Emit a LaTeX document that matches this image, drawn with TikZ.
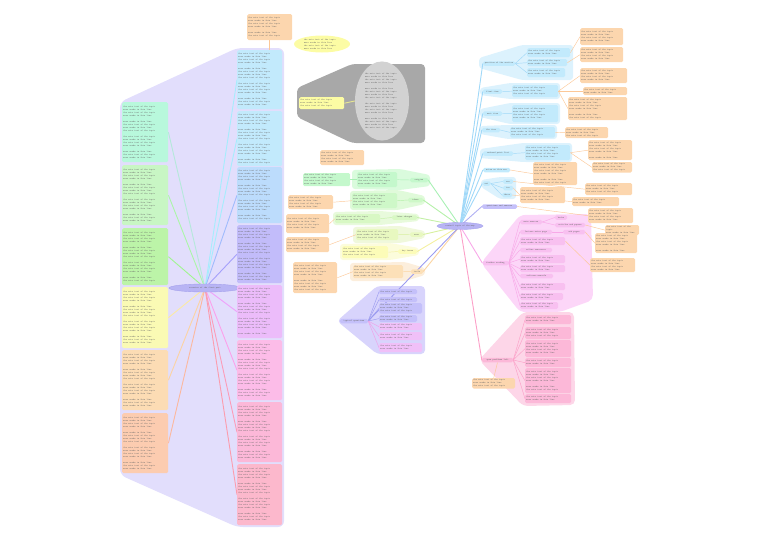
\documentclass[tikz,border=0pt]{standalone}
\usetikzlibrary{shapes.geometric}
\pgfdeclarelayer{back}
\pgfdeclarelayer{mid}
\pgfsetlayers{back,mid,main}
\definecolor{lav}{HTML}{E2DEFC}
\definecolor{topicf}{HTML}{B8B4F4}
\definecolor{topicd}{HTML}{A4A0EC}
\definecolor{mint}{HTML}{B8F8DC}
\definecolor{lgrn}{HTML}{C8F6C4}
\definecolor{grn}{HTML}{BCF4A8}
\definecolor{yel}{HTML}{FAFAB4}
\definecolor{org}{HTML}{FCDCB4}
\definecolor{sal}{HTML}{FCCCB0}
\definecolor{blu}{HTML}{C2EAFC}
\definecolor{blu2}{HTML}{BCDCFC}
\definecolor{vio}{HTML}{C2BCFA}
\definecolor{mag}{HTML}{ECBCFA}
\definecolor{pnk}{HTML}{FCBCE8}
\definecolor{pnk2}{HTML}{FCB8D8}
\definecolor{pnk3}{HTML}{FCB8CC}
\definecolor{peach}{HTML}{FCD6AE}
\definecolor{peachln}{HTML}{FCC898}
\definecolor{gry}{HTML}{A8A8A8}
\definecolor{lgry}{HTML}{D2D2D2}
\definecolor{ylw}{HTML}{FCFCA4}
\definecolor{ylwd}{HTML}{E8E890}
\definecolor{bblob}{HTML}{DCF2FD}
\definecolor{bline}{HTML}{A0D8F8}
\definecolor{gbox}{HTML}{C4F8CC}
\definecolor{gblob}{HTML}{DAFBDD}
\definecolor{gline}{HTML}{A8F0B4}
\definecolor{g2box}{HTML}{CEF8C8}
\definecolor{g2blob}{HTML}{E0FADA}
\definecolor{g2line}{HTML}{B4F0A8}
\definecolor{g3box}{HTML}{D8F8C4}
\definecolor{g3blob}{HTML}{E8FADC}
\definecolor{g3line}{HTML}{C4F0A8}
\definecolor{g4box}{HTML}{E8F8C0}
\definecolor{g4blob}{HTML}{F0F8DC}
\definecolor{g4line}{HTML}{D8F0A0}
\definecolor{g5box}{HTML}{FCFCB8}
\definecolor{g5blob}{HTML}{FCFCDC}
\definecolor{g5line}{HTML}{F4F0A0}
\definecolor{g6box}{HTML}{FCE0B8}
\definecolor{g6blob}{HTML}{FCEEDC}
\definecolor{g6line}{HTML}{FCD4A0}
\definecolor{vbox}{HTML}{C4C0FA}
\definecolor{vbox2}{HTML}{F0C0F8}
\definecolor{vblob}{HTML}{D8D4FC}
\definecolor{vline}{HTML}{9C9CF0}
\definecolor{vline2}{HTML}{F0A0E8}
\definecolor{p1box}{HTML}{F8C0F0}
\definecolor{p1blob}{HTML}{FCD6F8}
\definecolor{p1line}{HTML}{F8A8E8}
\definecolor{p2box}{HTML}{FCB8D8}
\definecolor{p2blob}{HTML}{FDD6E8}
\definecolor{p2line}{HTML}{FCA0C8}
\definecolor{txt}{HTML}{686868}
\newcommand\tf{\fontsize{2.3}{3}\selectfont\ttfamily}
\newcommand\ftxt[1]{\foreach \k in {1,...,#1}{\ifnum\numexpr\k-(\k/5)*5\relax=0 \else\ifodd\k\relax the note text of the topic\else more words in this line\fi\fi\ifnum\k<#1\relax\newline\fi}}
\newcommand\nt[7]{\node[nt, fill=#2, minimum width=#5, minimum height=#6] (#1) at (#3,#4) {\parbox{\dimexpr#5pt-2.4pt\relax}{\raggedright\ftxt{#7}}};}
\newcommand\pl[6]{\node[pl, fill=#2, minimum width=#5] (#1) at (#3,#4) {#6};}
\begin{document}
\begin{tikzpicture}[x=1pt,y=-1pt,
  nt/.style={anchor=north west, rounded corners=1.5pt, inner sep=1.2pt, font=\tf, text=txt},
  pl/.style={rounded corners=1.5pt, inner sep=0.6pt, minimum height=4.5, font=\tf, text=txt},
  topic/.style={ellipse, fill=topicf, draw=topicd, line width=0.4pt, inner sep=0pt, font=\tf, text=txt},
  ln/.style={line width=0.9pt},
  tl/.style={line width=0.45pt}]
\useasboundingbox (0,0) rectangle (768,544);

% left map
\node[topic, minimum width=72, minimum height=8] (ltopic) at (205,288) {overview of the first part};
\nt{lb1}{mint}{122}{102}{46}{60}{18}
\nt{lb2}{lgrn}{122}{165}{46}{60}{18}
\nt{lb3}{grn}{122}{228}{46}{57}{17}
\nt{lb4}{yel}{122}{287}{46}{61}{18}
\nt{lb5}{org}{122}{350}{46}{60}{18}
\nt{lb6}{sal}{122}{413}{46}{60}{18}
\nt{rb1}{blu}{237}{50}{45}{59}{18}
\nt{rb2}{blu}{237}{111}{45}{55}{17}
\nt{rb3}{blu2}{237}{167}{45}{56}{17}
\nt{rb4}{vio}{237}{225}{45}{58}{18}
\nt{rb5}{mag}{237}{285}{45}{53}{16}
\nt{rb6}{pnk}{237}{340}{45}{60}{18}
\nt{rb7}{pnk2}{237}{402}{45}{60}{18}
\nt{rb8}{pnk3}{237}{464}{45}{61}{18}
\nt{topn}{peach}{247}{14}{45}{26}{7}
\node[ellipse, fill=ylw, inner sep=0pt, minimum width=56, minimum height=17] (yel1) at (322,44) {\parbox{36pt}{\tf\color{txt}\raggedright\ftxt{4}}};

% grey callout
\node[ellipse, fill=lgry, inner sep=0pt, minimum width=54, minimum height=76] (circ) at (382,101) {\parbox{34pt}{\tf\color{txt}\raggedright\ftxt{19}}};
\nt{ycb}{ylw}{299}{97}{45}{12}{3}

% right map
\node[topic, minimum width=46, minimum height=7] (rtopic) at (460,226) {central topic of the map};
\pl{b1p}{blu}{499}{63.5}{32}{position of the section}
\pl{b2p}{blu}{492.5}{91.5}{19}{first item}
\pl{b3p}{blu}{492.5}{113.5}{19}{next item}
\pl{b4p}{blu}{491}{130}{18}{the item}
\pl{b5p}{blu}{498}{153.5}{30}{ordered point list}
\pl{b6p}{blu}{496.5}{170}{27}{notes on this one}
\pl{b7p}{blu}{486.5}{183.5}{8}{set}
\pl{s1}{blu}{508}{181.5}{10}{one}
\pl{s2}{blu}{508}{188}{10}{two}
\pl{s3}{blu}{507}{195}{10}{three}
\pl{b8p}{vbox}{499.5}{206.5}{35}{questions and answers}
\nt{b1a}{blu}{527}{48}{43}{9}{2}
\nt{b1b}{blu}{527}{59}{40}{7}{2}
\nt{b1c}{blu}{527}{68}{38}{9}{2}
\nt{b2b}{blu}{512}{85}{46}{12}{3}
\nt{b3b}{blu}{512}{105}{46}{17}{4}
\nt{b4b}{blu}{510}{127}{45}{10}{3}
\nt{b5b}{blu}{525}{145}{45}{15}{4}
\nt{o11}{peach}{580}{28}{43}{17}{4}
\nt{o12}{peach}{580}{47}{43}{15}{4}
\nt{o21}{peach}{580}{68}{47}{15}{4}
\nt{o22}{peach}{583}{87}{44}{8}{2}
\nt{o23}{peach}{568}{97}{59}{23}{7}
\nt{o41}{peach}{565}{127}{43}{11}{3}
\nt{o51}{peach}{588}{140}{44}{20}{6}
\nt{o52}{peach}{592}{162}{40}{10}{3}
\nt{o61}{peach}{533}{162}{44}{23}{7}
\nt{o71}{peach}{520}{187}{45}{16}{4}
\nt{o72}{peach}{585}{183}{47}{12}{3}
\nt{o73}{peach}{572}{197}{47}{9}{2}
\nt{o81}{peach}{588}{208}{45}{15}{4}

\pl{pp1}{p1box}{495.5}{263}{26}{further reading}
\pl{pa}{p1box}{531}{222}{22}{main sources}
\pl{pa1}{p1box}{561}{217.5}{12}{books}
\pl{pa2}{p1box}{570}{225}{30}{articles and papers}
\pl{pb}{p1box}{536}{232}{32}{lecture notes page}
\pl{pb1}{p1box}{574}{232}{22}{web pages}
\nt{pc}{p1box}{520}{237}{45}{8}{2}
\pl{pd}{p1box}{536}{250}{32}{online resources}
\nt{pe}{p1box}{520}{255}{45}{8}{2}
\nt{pf}{p1box}{520}{265}{45}{7}{2}
\pl{pg}{p1box}{536.5}{276}{33}{software manuals}
\nt{ph}{p1box}{520}{283}{45}{7}{2}
\nt{pi}{p1box}{520}{293}{43}{6}{2}
\nt{pj}{p1box}{520}{302}{38}{6}{2}
\nt{op1}{peach}{605}{225}{34}{7}{2}
\nt{op2}{peach}{595}{233}{42}{20}{6}
\nt{op3}{peach}{590}{258}{45}{14}{4}

\pl{pp2}{p2box}{497.5}{360}{31}{open problems left}
\nt{q1}{p2box}{525}{315}{46}{9}{2}
\nt{q2}{p2box}{525}{327}{46}{12}{3}
\nt{q3}{p2box}{525}{340}{46}{17}{4}
\nt{q4}{p2box}{525}{358}{46}{9}{2}
\nt{q5}{p2box}{525}{368}{46}{25}{7}
\nt{q6}{p2box}{525}{394}{46}{9}{2}
\nt{oq}{peach}{472}{378}{43}{10}{3}

\pl{g1p}{gbox}{419}{180}{18}{origins}
\nt{g1b}{gbox}{357}{172}{40}{15}{4}
\nt{g1c}{gbox}{303}{173}{47}{13}{4}
\nt{o1}{peach}{320}{150}{44}{15}{4}
\pl{g2p}{g2box}{415.5}{200}{15}{ideas}
\nt{g2b}{g2box}{352}{193}{45}{15}{4}
\nt{o2}{peach}{288}{195}{45}{14}{4}
\pl{g3p}{g3box}{404.5}{217.5}{25}{later changes}
\nt{g3b}{g3box}{335}{214}{45}{9}{2}
\nt{o3}{peach}{286}{214}{43}{19}{4}
\pl{g4p}{g4box}{416.5}{234.5}{13}{uses}
\nt{g4b}{g4box}{356}{229}{42}{11}{3}
\nt{o4}{peach}{286}{237}{43}{15}{4}
\pl{g5p}{g5box}{407.5}{251.5}{19}{key terms}
\nt{g5b}{g5box}{342}{246}{46}{12}{3}
\pl{g6p}{g6box}{417}{271.5}{12}{tools}
\nt{g6b}{g6box}{353}{265}{50}{13}{4}
\nt{o6}{peach}{293}{262}{44}{31}{9}

\pl{g7p}{vbox}{354}{321}{28}{typical questions}
\nt{v1}{vbox}{379}{289}{38}{5}{1}
\nt{v2}{vbox}{379}{297}{38}{5}{1}
\nt{v3}{vbox}{379}{303}{43}{10}{3}
\nt{v4}{vbox}{379}{315}{38}{6}{2}
\nt{v5}{vbox2}{379}{323}{43}{7}{2}
\nt{v6}{vbox2}{379}{332}{43}{8}{2}
\nt{v7}{vbox2}{379}{343}{43}{9}{2}

\begin{pgfonlayer}{back}
\fill[lav, rounded corners=6pt] (120,102) -- (237,48) -- (284,48) -- (284,527) -- (237,527) -- (120,475) -- cycle;
\fill[gry, rounded corners=4pt] (352,64) -- (425,64) -- (425,143) -- (352,143) -- (297,117) -- (297,88) -- cycle;
\fill[bblob, rounded corners=3pt] (479,58) -- (522,45) -- (573,45) -- (573,80) -- (522,80) -- (479,68) -- cycle;
\fill[bblob, rounded corners=3pt] (480,88) -- (510,83) -- (560,83) -- (560,99) -- (510,99) -- (480,95) -- cycle;
\fill[bblob, rounded corners=3pt] (480,109) -- (510,103) -- (560,103) -- (560,124) -- (510,124) -- (480,117) -- cycle;
\fill[bblob, rounded corners=3pt] (480,126) -- (508,125) -- (557,125) -- (557,139) -- (508,139) -- (480,134) -- cycle;
\fill[bblob, rounded corners=3pt] (480,149) -- (523,143) -- (572,143) -- (572,162) -- (523,162) -- (480,158) -- cycle;
\fill[bblob, rounded corners=3pt] (481,180) -- (500,177) -- (516,177) -- (516,199) -- (500,199) -- (481,187) -- cycle;
\fill[gblob, rounded corners=3pt] (352,170) -- (400,169) -- (430,175) -- (430,186) -- (400,190) -- (352,189) -- cycle;
\fill[g2blob, rounded corners=3pt] (350,191) -- (398,190) -- (425,196) -- (425,204) -- (398,210) -- (350,210) -- cycle;
\fill[g3blob, rounded corners=3pt] (333,212) -- (380,211) -- (419,214) -- (419,221) -- (380,225) -- (333,225) -- cycle;
\fill[g4blob, rounded corners=3pt] (353,227) -- (400,226) -- (425,231) -- (425,238) -- (400,243) -- (353,243) -- cycle;
\fill[g5blob, rounded corners=3pt] (340,244) -- (390,243) -- (419,248) -- (419,255) -- (390,260) -- (340,260) -- cycle;
\fill[g6blob, rounded corners=3pt] (350,263) -- (405,262) -- (425,268) -- (425,275) -- (405,281) -- (350,281) -- cycle;
\fill[vblob, rounded corners=4pt] (337,321) -- (377,286) -- (425,286) -- (425,354) -- (377,354) -- cycle;
\fill[p1blob, rounded corners=5pt] (481,263) -- (520,215) -- (591,214) -- (593,300) -- (560,312) -- (520,312) -- cycle;
\fill[p2blob, rounded corners=5pt] (479,360) -- (523,312) -- (574,312) -- (575,405) -- (523,406) -- cycle;
\end{pgfonlayer}

\begin{pgfonlayer}{mid}
\draw[ln, color=mint!80!teal!70] (ltopic.center) -- (lb1.east);
\draw[ln, color=lgrn!85!green] (ltopic.center) -- (lb2.east);
\draw[ln, color=grn!85!green] (ltopic.center) -- (lb3.east);
\draw[ln, color=yel!85!orange!90] (ltopic.center) -- (lb4.east);
\draw[ln, color=org!90!orange] (ltopic.center) -- (lb5.east);
\draw[ln, color=sal!90!red] (ltopic.center) -- (lb6.east);
\draw[ln, color=blu!85!cyan] (ltopic.center) -- (rb1.west);
\draw[ln, color=blu!85!cyan] (ltopic.center) -- (rb2.west);
\draw[ln, color=blu2!85!blue] (ltopic.center) -- (rb3.west);
\draw[ln, color=vio!85!blue] (ltopic.center) -- (rb4.west);
\draw[ln, color=mag!85!magenta] (ltopic.center) -- (rb5.west);
\draw[ln, color=pnk!85!magenta] (ltopic.center) -- (rb6.west);
\draw[ln, color=pnk2!85!red] (ltopic.center) -- (rb7.west);
\draw[ln, color=pnk3!85!red] (ltopic.center) -- (rb8.west);
\draw[ln, color=peachln] (topn.south) -- (rb1.north -| topn.south);
\draw[ln, color=ylwd] (ycb.east) -- (circ.west);

\foreach \p in {b1p,b2p,b3p,b4p,b5p,b6p,b7p}
  \draw[ln, color=bline] (rtopic.center) -- (\p.west);
\draw[ln, color=vline!80] (rtopic.center) -- (b8p.west);
\draw[ln, color=p1line] (rtopic.center) -- (pp1.west);
\draw[ln, color=p2line] (rtopic.center) -- (pp2.west);
\draw[ln, color=gline] (rtopic.center) -- (g1p.east);
\draw[ln, color=g2line] (rtopic.center) -- (g2p.east);
\draw[ln, color=g3line] (rtopic.center) -- (g3p.east);
\draw[ln, color=g4line] (rtopic.center) -- (g4p.east);
\draw[ln, color=g5line] (rtopic.center) -- (g5p.east);
\draw[ln, color=g6line] (rtopic.center) -- (g6p.east);
\draw[ln, color=vline] (rtopic.center) -- (g7p.east);

\foreach \c in {b1a,b1b,b1c}
  \draw[tl, color=bline] (b1p.east) -- (\c.west);
\draw[tl, color=bline] (b2p.east) -- (b2b.west);
\draw[tl, color=bline] (b3p.east) -- (b3b.west);
\draw[tl, color=bline] (b4p.east) -- (b4b.west);
\draw[tl, color=bline] (b5p.east) -- (b5b.west);
\foreach \c in {s1,s2,s3}
  \draw[tl, color=bline] (b7p.east) -- (\c.west);
\draw[tl, color=gline] (g1p.west) -- (g1b.east);
\draw[tl, color=gline] (g1b.west) -- (g1c.east);
\draw[tl, color=g2line] (g2p.west) -- (g2b.east);
\draw[tl, color=g3line] (g3p.west) -- (g3b.east);
\draw[tl, color=g4line] (g4p.west) -- (g4b.east);
\draw[tl, color=g5line] (g5p.west) -- (g5b.east);
\draw[tl, color=g6line] (g6p.west) -- (g6b.east);
\foreach \c in {v1,v2,v3,v4}
  \draw[tl, color=vline] (g7p.east) -- (\c.west);
\foreach \c in {v5,v6,v7}
  \draw[tl, color=vline2] (g7p.east) -- (\c.west);
\foreach \c in {pa,pb,pc,pd,pe,pf,pg,ph,pi,pj}
  \draw[tl, color=p1line] (pp1.east) -- (\c.west);
\draw[tl, color=p1line] (pa.east) -- (pa1.west);
\draw[tl, color=p1line] (pa.east) -- (pa2.west);
\draw[tl, color=p1line] (pb.east) -- (pb1.west);
\foreach \c in {q1,q2,q3,q4,q5,q6}
  \draw[tl, color=p2line] (pp2.east) -- (\c.west);

\draw[tl, color=peachln] (b1a.east) -- (o11.west);
\draw[tl, color=peachln] (b1b.east) -- (o12.west);
\draw[tl, color=peachln] (b2b.east) -- (o21.west);
\draw[tl, color=peachln] (b2b.east) -- (o22.west);
\draw[tl, color=peachln] (b2b.east) -- (o23.west);
\draw[tl, color=peachln] (b4b.east) -- (o41.west);
\draw[tl, color=peachln] (b5b.east) -- (o51.west);
\draw[tl, color=peachln] (b5b.east) -- (o52.west);
\draw[tl, color=peachln] (b6p.east) -- (o61.west);
\draw[tl, color=peachln] (s2.east) -- (o71.west);
\draw[tl, color=peachln] (s1.east) -- (o72.west);
\draw[tl, color=peachln] (s3.east) -- (o73.west);
\draw[tl, color=peachln] (b8p.east) -- (o81.west);
\draw[tl, color=peachln] (pa2.east) -- (op1.west);
\draw[tl, color=peachln] (pb1.east) -- (op2.west);
\draw[tl, color=peachln] (pc.east) -- (op3.west);
\draw[tl, color=peachln] (pp2.south) -- (oq.north);
\draw[tl, color=peachln] (g2b.west) -- (o2.east);
\draw[tl, color=peachln] (g3b.west) -- (o3.east);
\draw[tl, color=peachln] (g4b.west) -- (o4.east);
\draw[tl, color=peachln] (g6b.west) -- (o6.east);
\end{pgfonlayer}
\end{tikzpicture}
\end{document}
